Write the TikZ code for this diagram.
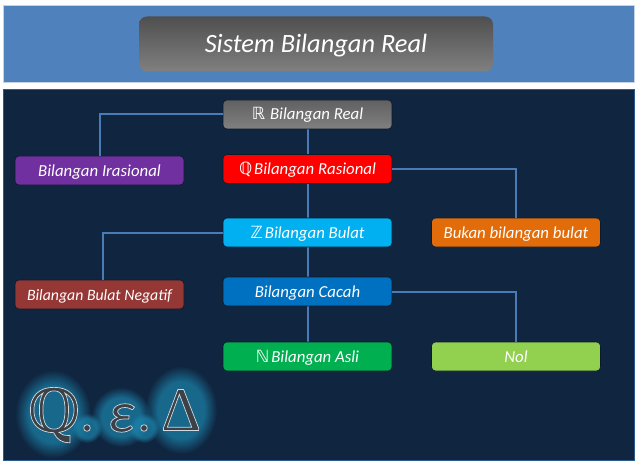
\documentclass[tikz,border=0pt]{standalone}
\usepackage{fontspec}
\setmainfont{Carlito}
\newfontfamily\symfont{DejaVu Sans}
\newfontfamily\serffont{DejaVu Serif}
\newfontfamily\libfont{Liberation Serif}
\usetikzlibrary{fadings}
\definecolor{topband}{HTML}{4F81BD}
\definecolor{topedge}{HTML}{C6D3E6}
\definecolor{lowband}{HTML}{10253F}
\definecolor{lowedge}{HTML}{2A5C92}
\definecolor{linkblue}{HTML}{4A7BB5}
\definecolor{glowblue}{HTML}{1C86AE}
\definecolor{gdark}{HTML}{4F4F4F}
\definecolor{glight}{HTML}{808080}
\newcommand{\outl}{\special{pdf:code 2 Tr 0.7 w 0.82 0.85 0.88 RG 0.24 0.25 0.27 rg}}
\newcommand{\outlend}{\special{pdf:code 0 Tr}}
\pgfdeclareradialshading{softsh}{\pgfpointorigin}{color(0bp)=(pgftransparent!30); color(16bp)=(pgftransparent!30); color(25bp)=(pgftransparent!100); color(50bp)=(pgftransparent!100)}
\pgfdeclarefading{softglow}{\pgfuseshading{softsh}}
\tikzset{
  band/.style={draw=#1,line width=1pt},
  numbox/.style={rounded corners=4pt,minimum width=169pt,minimum height=29pt,inner sep=0pt,draw=lowband!70!black,line width=.6pt,
     text=white,font=\fontsize{16.8}{18}\selectfont\itshape,anchor=center,text height=14pt,text depth=3pt},
  greybox/.style={numbox,top color=gdark!90!white,bottom color=glight},
  link/.style={draw=linkblue,line width=2pt},
  glow/.style={fill=glowblue,path fading=softglow},
  logo/.style={inner sep=0pt,anchor=center,text=gray},
}
\begin{document}
\begin{tikzpicture}[x=1pt,y=-1pt]
\useasboundingbox (0,0) rectangle (640,468);
\fill[white] (0,0) rectangle (640,468);
\path[band=topedge,fill=topband] (3.5,5.5) rectangle (634,83);
\path[band=lowedge,fill=lowband] (3.5,89.5) rectangle (634,460);

\node[greybox,rounded corners=8pt,minimum width=354pt,minimum height=55pt,top color=gdark,bottom color=glight,draw=none,text height=22pt,text depth=4.6pt,font=\fontsize{26.4}{30}\selectfont\itshape] (title) at (316,44) {Sistem Bilangan Real};

\path[link] (307.5,114.5) coordinate (c1) -- (307.5,356.5) coordinate (c2);
\node[greybox] (real) at (307.5,114.5) {{\symfont\upshape ℝ}\hspace{5pt}Bilangan Real};
\node[numbox,fill=red] (rasional) at (307.5,169) {{\symfont\upshape ℚ}\hspace{2pt}Bilangan Rasional};
\node[numbox,fill={rgb,255:red,0;green,176;blue,240}] (bulat) at (307.5,232.5) {{\symfont\upshape ℤ}\hspace{2pt}Bilangan Bulat};
\node[numbox,fill={rgb,255:red,0;green,112;blue,192}] (cacah) at (307.5,291.5) {Bilangan Cacah};
\node[numbox,fill={rgb,255:red,0;green,176;blue,80}] (asli) at (307.5,356.5) {{\symfont\upshape ℕ}\hspace{2pt}Bilangan Asli};
\node[numbox,fill={rgb,255:red,112;green,48;blue,160}] (irasional) at (99.5,170.5) {Bilangan Irasional};
\node[numbox,fill={rgb,255:red,149;green,55;blue,53},font=\fontsize{15.8}{18}\selectfont\itshape] (negatif) at (99.5,294.5) {Bilangan Bulat Negatif};
\node[numbox,fill={rgb,255:red,227;green,108;blue,10}] (bukan) at (516,232.5) {Bukan bilangan bulat};
\node[numbox,fill={rgb,255:red,146;green,208;blue,80}] (nol) at (516,356.5) {Nol};

\path[link] (real.west) -| (irasional.north);
\path[link] (rasional.east) -| (bukan.north);
\path[link] (bulat.west) -| ([xshift=3.5pt]negatif.north);
\path[link] (cacah.east) -| (nol.north);

% logo glow
\path[glow] (53,414) ellipse (38 and 44);
\path[glow] (87,428) ellipse (15 and 15);
\path[glow] (121,417) ellipse (30 and 30);
\path[glow] (144,428) ellipse (15 and 15);
\path[glow] (181,410) ellipse (36 and 44);

\node[logo] (lq) at (54,415) {\fontsize{60}{62}\selectfont\outl\serffont ℚ\outlend};
\node[logo] (ld1) at (87,428) {\fontsize{56}{58}\selectfont\outl\libfont .\outlend};
\node[logo] (le) at (121,418) {\fontsize{58}{60}\selectfont\outl\itshape ε\outlend};
\node[logo] (ld2) at (144,428) {\fontsize{56}{58}\selectfont\outl\libfont .\outlend};
\node[logo] (ld) at (181,410) {\fontsize{62}{64}\selectfont\outl\libfont Δ\outlend};
\end{tikzpicture}
\end{document}
